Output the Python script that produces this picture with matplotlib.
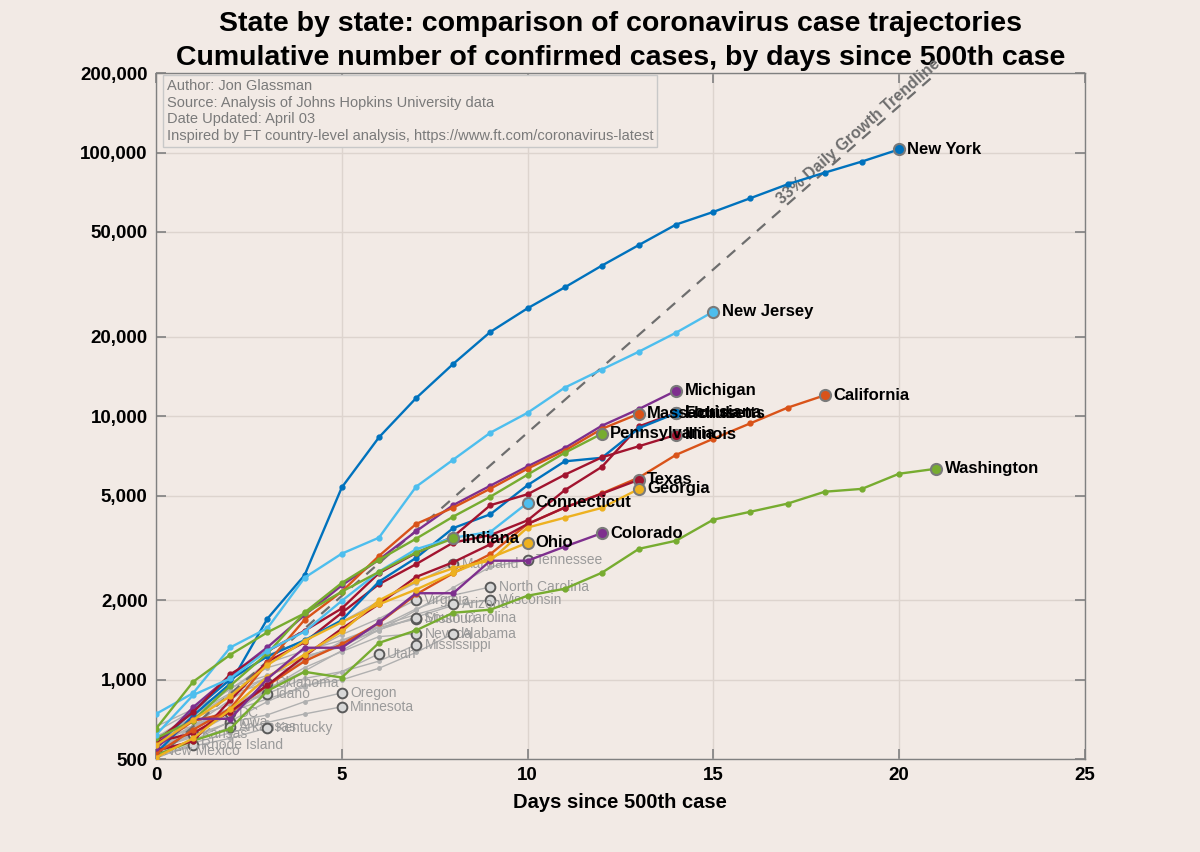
import matplotlib
matplotlib.use('Agg')
import matplotlib.pyplot as plt
import numpy as np
from matplotlib.ticker import FixedLocator, FuncFormatter, NullLocator

plt.rcParams['font.family'] = ['Liberation Sans', 'DejaVu Sans']

# ---- highlighted states: cumulative cases, one value per day since 500th case
new_york = [525, 732, 967, 1706, 2495, 5365, 8310, 11710, 15793, 20884, 25665,
            30811, 37258, 44635, 53363, 59568, 67174, 75832, 83948, 92506, 102870]
new_jersey = [742, 890, 1327, 1570, 2440, 3010, 3460, 5400, 6840, 8660, 10300,
              12830, 15030, 17580, 20750, 24930]
michigan = [560, 787, 1035, 1329, 1760, 2280, 2856, 3660, 4600, 5450, 6450,
            7570, 9200, 10650, 12500]
massachusetts = [525, 646, 777, 1159, 1690, 2160, 2950, 3900, 4500, 5310, 6320,
                 7400, 8950, 10220]
florida = [563, 763, 1004, 1227, 1412, 1682, 2357, 2900, 3763, 4246, 5473,
           6741, 6955, 9008, 10268]
louisiana = [538, 585, 837, 1172, 1388, 1795, 2305, 2746, 3315, 3540, 4025,
             5237, 6424, 9150, 10297]
pennsylvania = [600, 700, 950, 1260, 1800, 2330, 2850, 3430, 4160, 4950, 6000,
                7260, 8580]
illinois = [585, 753, 1049, 1285, 1535, 1865, 2538, 3026, 3491, 4596, 5057,
            5994, 6980, 7695, 8500]
california = [557, 698, 751, 952, 1177, 1364, 1642, 2108, 2538, 2998, 3899,
              4500, 5095, 5852, 7138, 8210, 9399, 10773, 12004]
washington = [517, 587, 652, 908, 1072, 1020, 1380, 1540, 1796, 1845, 2084,
              2215, 2547, 3140, 3370, 4050, 4340, 4660, 5170, 5300, 6050, 6320]
texas = [581, 627, 758, 955, 1229, 1563, 1937, 2455, 2792, 3266, 3900, 4500,
         5080, 5740]
georgia = [507, 600, 772, 1026, 1247, 1525, 2000, 2366, 2651, 2830, 3780, 4120,
           4490, 5300]
connecticut = [618, 875, 1012, 1291, 1524, 1993, 2571, 3128, 3460, 3640, 4690]
colorado = [552, 711, 711, 1009, 1323, 1323, 1650, 2130, 2130, 2830, 2830,
            3200, 3600]
indiana = [652, 983, 1245, 1514, 1786, 2159, 2565, 3039, 3437]
ohio = [564, 704, 867, 1137, 1406, 1653, 1933, 2199, 2547, 2902, 3312]

highlight_names = ['Washington', 'California', 'New York', 'New Jersey',
                   'Louisiana', 'Florida', 'Michigan', 'Illinois', 'Texas',
                   'Massachusetts', 'Georgia', 'Pennsylvania', 'Colorado',
                   'Connecticut', 'Ohio', 'Indiana']
highlight_values = [washington, california, new_york, new_jersey, louisiana,
                    florida, michigan, illinois, texas, massachusetts, georgia,
                    pennsylvania, colorado, connecticut, ohio, indiana]

# ---- other states (grey)
tennessee = [615, 667, 784, 957, 1203, 1373, 1537, 1834, 2239, 2683, 2845]
maryland = [580, 774, 995, 1239, 1413, 1660, 1985, 2331, 2758]
north_carolina = [636, 763, 935, 1040, 1167, 1400, 1584, 1857, 2093, 2250]
wisconsin = [585, 728, 926, 1112, 1221, 1351, 1550, 1730, 1916, 2011]
virginia = [604, 739, 890, 1020, 1250, 1484, 1706, 2012]
arizona = [665, 773, 919, 1157, 1289, 1413, 1598, 1769, 1940]
missouri = [560, 670, 840, 1030, 1230, 1330, 1580, 1700]
south_carolina = [540, 660, 780, 925, 1080, 1290, 1550, 1720]
nevada = [535, 621, 738, 920, 1113, 1279, 1458, 1495]
alabama = [517, 587, 696, 827, 952, 999, 1106, 1270, 1495]
mississippi = [579, 663, 758, 847, 937, 1073, 1177, 1358]
utah = [598, 720, 806, 887, 1012, 1074, 1255]
oklahoma = [565, 719, 881, 975]
idaho = [525, 669, 781, 885]
oregon = [548, 606, 690, 736, 826, 892]
minnesota = [503, 576, 629, 689, 742, 790]
dc = [586, 653, 750]
iowa = [547, 614, 690]
arkansas = [523, 590, 660]
kentucky = [510, 560, 600, 657]
kansas = [552, 624]
rhode_island = [508, 566]
new_mexico = [537]

other_names = ['Tennessee', 'Maryland', 'North Carolina', 'Wisconsin',
               'Virginia', 'Arizona', 'Missouri', 'South Carolina', 'Nevada',
               'Alabama', 'Mississippi', 'Utah', 'Oklahoma', 'Idaho', 'Oregon',
               'Minnesota', 'DC', 'Iowa', 'Arkansas', 'Kentucky', 'Kansas',
               'Rhode Island', 'New Mexico']
other_values = [tennessee, maryland, north_carolina, wisconsin, virginia,
                arizona, missouri, south_carolina, nevada, alabama, mississippi,
                utah, oklahoma, idaho, oregon, minnesota, dc, iowa, arkansas,
                kentucky, kansas, rhode_island, new_mexico]

y_ticks = [500, 1000, 2000, 5000, 10000, 20000, 50000, 100000, 200000]
x_ticks = [0, 5, 10, 15, 20, 25]

trend_start = 500
trend_growth = 0.33
trend_days = np.arange(0, 23)

info_lines = ['Author: Jon Glassman',
              'Source: Analysis of Johns Hopkins University data',
              'Date Updated: April 03',
              'Inspired by FT country-level analysis, https://www.ft.com/coronavirus-latest']

# ---- styles
BG = '#f2eae5'
GREY_LINE = '#b0b0b0'
GREY_TEXT = '#9a9a9a'
state_colors = {
    'New York': '#0072bd', 'Florida': '#0072bd',
    'New Jersey': '#4dbeee', 'Connecticut': '#4dbeee',
    'Michigan': '#7e2f8e', 'Colorado': '#7e2f8e',
    'Massachusetts': '#d95319', 'California': '#d95319',
    'Pennsylvania': '#77ac30', 'Washington': '#77ac30', 'Indiana': '#77ac30',
    'Louisiana': '#a2142f', 'Illinois': '#a2142f', 'Texas': '#a2142f',
    'Georgia': '#edb120', 'Ohio': '#edb120',
}

fig = plt.figure(figsize=(12, 8.52), dpi=100, facecolor=BG)
ax = fig.add_axes([0.13, 0.109, 0.774, 0.805], facecolor=BG)

# grey states
for name, vals in zip(other_names, other_values):
    days = np.arange(len(vals))
    ax.plot(days, vals, '-', color=GREY_LINE, lw=1.0, marker='o', ms=2.5,
            zorder=2)
    ax.plot(days[-1], vals[-1], 'o', ms=7, mfc='#d8d8d8', mec='#5a5a5a',
            mew=1.4, zorder=3)
    ax.annotate(name, (days[-1], vals[-1]), xytext=(6, 0),
                textcoords='offset points', va='center', ha='left',
                fontsize=10, color=GREY_TEXT, zorder=3)

# trend line
trend_vals = trend_start * (1 + trend_growth) ** trend_days
ax.plot(trend_days, trend_vals, '--', color='#6e6e6e', lw=1.6,
        dashes=(5, 4), zorder=4)
ax.text(18.9, trend_start * (1 + trend_growth) ** 18.9 * 1.1,
        '33% Daily Growth Trendline', rotation=41.3, rotation_mode='anchor',
        ha='center', va='center', fontsize=11.5, fontweight='bold',
        color='#6e6e6e', zorder=4)

# highlighted states
for name, vals in zip(highlight_names, highlight_values):
    days = np.arange(len(vals))
    c = state_colors[name]
    ax.plot(days, vals, '-', color=c, lw=1.7, marker='o', ms=3.5, zorder=5)
for name, vals in zip(highlight_names, highlight_values):
    days = np.arange(len(vals))
    c = state_colors[name]
    ax.plot(days[-1], vals[-1], 'o', ms=8, mfc=c, mec='#7a7a7a', mew=1.5,
            zorder=6)
    ax.annotate(name, (days[-1], vals[-1]), xytext=(6, 0),
                textcoords='offset points', va='center', ha='left',
                fontsize=12, fontweight='bold', color='black', zorder=7)

ax.set_yscale('log')
ax.set_xlim(0, 25)
ax.set_ylim(500, 200000)
ax.yaxis.set_major_locator(FixedLocator(y_ticks))
ax.yaxis.set_minor_locator(NullLocator())
ax.yaxis.set_major_formatter(FuncFormatter(lambda v, p: f'{int(v):,}'))
ax.xaxis.set_major_locator(FixedLocator(x_ticks))

ax.grid(True, color='#ddd4ce', lw=1.0, zorder=0)
ax.set_axisbelow(True)
for s in ax.spines.values():
    s.set_color('#808080')
    s.set_linewidth(1.0)
ax.tick_params(direction='in', length=7, width=1.2, color='#808080',
               top=True, right=True, labelsize=13.5, pad=6)
for lab in ax.get_xticklabels() + ax.get_yticklabels():
    lab.set_fontweight('bold')

ax.set_xlabel('Days since 500th case', fontsize=14.5, fontweight='bold',
              labelpad=6)
ax.set_title('State by state: comparison of coronavirus case trajectories\n'
             'Cumulative number of confirmed cases, by days since 500th case',
             fontsize=20.5, fontweight='bold', pad=6, linespacing=1.38)

ax.text(0.012, 0.992, '\n'.join(info_lines), transform=ax.transAxes,
        ha='left', va='top', fontsize=10.5, color='#7a7a7a', linespacing=1.25,
        zorder=8,
        bbox=dict(boxstyle='square,pad=0.25', facecolor=BG,
                  edgecolor='#c8c8c8', lw=1.0))

fig.savefig('out.png', dpi=100, facecolor=BG)
